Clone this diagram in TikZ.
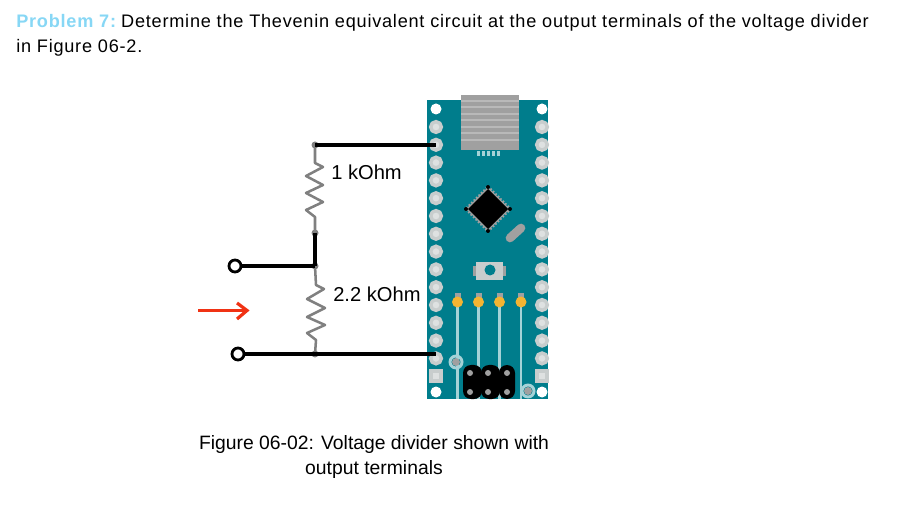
\documentclass[tikz,border=0pt]{standalone}
\usepackage{fontspec}
\setmainfont{Liberation Sans}
\definecolor{boardteal}{RGB}{0,125,140}
\definecolor{padgray}{RGB}{200,205,205}
\definecolor{usbgray}{RGB}{160,160,160}
\definecolor{ledorange}{RGB}{245,180,50}
\definecolor{tracelight}{RGB}{165,210,215}
\definecolor{problemblue}{RGB}{135,215,245}
\definecolor{arrowred}{RGB}{240,50,20}
\tikzset{
  terminal/.style={circle,draw=black,line width=2.1pt,fill=white,inner sep=0pt,minimum size=9pt},
  wire/.style={black,line width=2.6pt},
  reswire/.style={gray,line width=1.9pt,line join=round},
  pad/.style={circle,draw=padgray,line width=2.6pt,fill=padgray!60!white,inner sep=0pt,minimum size=8pt},
  squarepad/.style={pad,rectangle,minimum size=7.5pt},
  label/.style={font=\fontsize{15.1pt}{18pt}\selectfont,inner sep=0pt},
  headline/.style={anchor=base west,inner sep=0pt,font=\fontsize{13.6pt}{16pt}\selectfont\addfontfeature{LetterSpace=4.2}},
  captionline/.style={anchor=base,inner sep=0pt,font=\fontsize{14.5pt}{18pt}\selectfont},
}
\begin{document}
\begin{tikzpicture}[x=0.75pt,y=-0.75pt]
     \useasboundingbox (0,0) rectangle (924,509);
     % heading
     \node[headline] (heading1) at (16,28)
       {\textcolor{problemblue}{\textbf{Problem 7:}}\hspace{-2.5pt} Determine the Thevenin equivalent circuit at the output terminals of the voltage divider};
     \node[headline] (heading2) at (16,53) {in Figure 06-2.};
     % board
     \fill[boardteal] (427,100) rectangle (548,399);
     \fill[usbgray] (461,95) rectangle (519,150);
     \foreach \y in {101,107.5,114,120.5,127,133.5,140}
       \draw[gray!55!white,line width=1.5pt] (461,\y) -- (519,\y);
     \foreach \x in {478,483,488,493,498}
       \fill[tracelight] (\x-1.5,151) rectangle (\x+1.5,156);
     \foreach \i in {0,...,13} {
       \node[pad] (left\i) at (436,127+17.8*\i) {};
       \node[pad] (right\i) at (542,127+17.8*\i) {};
     }
     \node[squarepad] (left14) at (436,376) {};
     \node[squarepad] (right14) at (542,376) {};
     \foreach \x/\y in {436/109,542/109,436/392,542/392}
       \fill[white] (\x,\y) circle (5.5);
     % chip and crystal
     \fill[usbgray] (488,185) -- (512,209) -- (488,233) -- (464,209) -- cycle;
     \draw[boardteal,line width=3pt,dash pattern=on 1.1pt off 1.5pt] (488,184) -- (513,209) -- (488,234) -- (463,209) -- cycle;
     \fill[black] (488,189) -- (508,209) -- (488,229) -- (468,209) -- cycle;
     \foreach \x/\y in {488/187,510/209,488/231,466/209}
       \fill[black] (\x,\y) circle (2);
     \draw[usbgray,line width=6.5pt,line cap=round] (510,238) -- (521,228);
     % button
     \fill[padgray] (476,262) rectangle (503,280);
     \fill[usbgray] (473,266) rectangle (476,276);
     \fill[usbgray] (503,266) rectangle (506,276);
     \fill[boardteal] (490,270) circle (5.5);
     % leds and traces
     \foreach \x in {457.5,478.5,499.5,521} {
       \draw[tracelight,line width=1.9pt] (\x,302) -- (\x,399);
       \fill[usbgray] (\x-3,293) rectangle (\x+3,300);
       \fill[ledorange] (\x,302) circle (5.5);
     }
     % header
     \fill[black,rounded corners=6pt] (463,365) rectangle (482,399);
     \fill[black,rounded corners=6pt] (481,365) rectangle (500,399);
     \fill[black,rounded corners=6pt] (499,365) rectangle (515,399);
     \foreach \x in {470,488,507}
       \foreach \y in {373,392}
         \fill[usbgray] (\x,\y) circle (3);
     \fill[usbgray] (456,362) circle (4);
     \draw[tracelight,line width=2.2pt] (456,362) circle (6);
     \fill[usbgray] (528,391) circle (4);
     \draw[tracelight,line width=2.2pt] (528,391) circle (6);
     % circuit
     \coordinate (top) at (315,145);
     \coordinate (mid1) at (315,233);
     \coordinate (mid2) at (315,266);
     \coordinate (bottom) at (315,354);
     \coordinate (topend) at (436,145);
     \coordinate (bottomend) at (436,354);
     \node[terminal] (termA) at (235,266) {};
     \node[terminal] (termB) at (238,354) {};
     \draw[reswire] (top) -- (315,163) -- (323,167) -- (306,176) -- (323,185) -- (306,193) -- (323,202) -- (306,210) -- (315,217) -- (mid1);
     \draw[reswire] (mid2) -- (316,285) -- (324,289) -- (307,299) -- (325,308) -- (307,317) -- (325,325) -- (307,333) -- (316,340) -- (bottom);
     \foreach \p in {top,mid1,mid2,bottom}
       \fill[gray] (\p) circle (3.5);
     \draw[wire] (top) -- (topend);
     \draw[wire] (mid1) -- (mid2);
     \draw[wire] (termA) -- (mid2);
     \draw[wire] (termB) -- (bottomend);
     \node[label,anchor=base west] (res1) at (331,180) {1 kOhm};
     \node[label,anchor=base west] (res2) at (333,302) {2.2 kOhm};
     % red arrow
     \coordinate (arrowstart) at (198,310.5);
     \coordinate (arrowend) at (247,310.5);
     \draw[arrowred,line width=2.1pt] (arrowstart) -- (arrowend);
     \draw[arrowred,line width=2.4pt] (237,303) -- (arrowend) -- (237,319);
     % caption
     \node[captionline] (caption1) at (374,449) {Figure 06-02: Voltage divider shown with};
     \node[captionline] (caption2) at (374,474) {output terminals};
\end{tikzpicture}
\end{document}
